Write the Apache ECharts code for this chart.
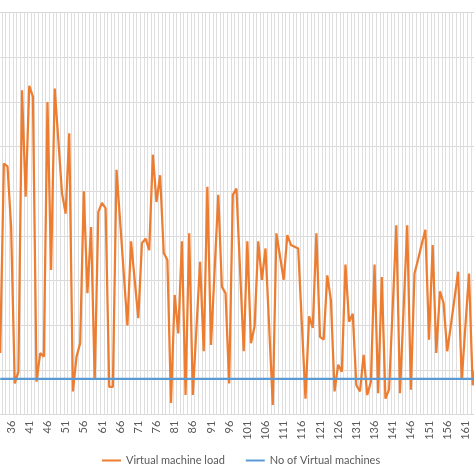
<!DOCTYPE html>
<html>
<head>
<meta charset="utf-8">
<script src="https://cdn.jsdelivr.net/npm/echarts@6/dist/echarts.min.js"></script>
<style>
  html, body { margin: 0; padding: 0; background: #fff; }
  #chart { width: 474px; height: 474px; }
</style>
</head>
<body>
<div id="chart"></div>
<script>
// categories run from 33 to 164 (the crop shows 36 ... 161)
const firstCategory = 33
const lastCategory = 164

const vmLoad = [
  6.9, 28.1, 27.8, 21.0, 3.5, 4.8, 36.3, 24.4, 36.8, 35.6,
  3.7, 6.9, 6.5, 35.0, 16.2, 36.5, 30.7, 24.8, 22.5, 31.5,
  2.6, 6.5, 8.0, 25.0, 13.6, 21.0, 3.9, 22.7, 23.7, 23.1,
  3.1, 3.1, 27.4, 21.6, 15.8, 10.0, 19.4, 15.1, 10.8, 19.2,
  19.7, 18.4, 29.1, 23.8, 26.8, 18.1, 17.3, 1.3, 13.4, 9.1,
  19.4, 2.2, 20.3, 2.2, 9.7, 17.1, 7.1, 25.5, 7.8, 16.2,
  24.6, 14.3, 13.6, 3.5, 24.6, 25.3, 16.2, 7.1, 19.4, 8.0,
  9.9, 19.4, 15.1, 18.6, 9.9, 1.1, 20.3, 17.7, 15.1, 20.1,
  19.0, 18.8, 18.6, 10.2, 1.8, 11.0, 9.7, 20.3, 8.7, 8.4,
  15.6, 12.8, 2.6, 5.6, 4.8, 16.8, 10.4, 11.3, 3.3, 2.6,
  6.7, 2.2, 3.7, 16.8, 2.4, 15.4, 1.8, 2.8, 12.0, 21.2,
  2.4, 11.8, 21.2, 2.8, 15.8, 17.4, 19.1, 20.7, 8.4, 19.0,
  6.9, 13.8, 12.5, 7.1, 10.0, 13.0, 16.0, 3.9, 9.9, 15.8,
  3.3, 6.0
]

// number of virtual machines stays flat across the whole range
const vmCountValue = 4

const categories = []
for (let c = firstCategory; c <= lastCategory; c++) categories.push(String(c))
const vmCount = categories.map(() => vmCountValue)

const chart = echarts.init(document.getElementById('chart'))

chart.setOption({
  backgroundColor: '#fff',
  animation: false,
  legend: {
    left: 97,
    top: 450,
    itemWidth: 19,
    itemHeight: 2,
    itemGap: 21,
    textStyle: {
      color: '#595959',
      fontSize: 11,
      fontFamily: 'Lato'
    },
    data: [
      { name: 'Virtual machine load', icon: 'rect' },
      { name: 'No of Virtual machines', icon: 'rect' }
    ]
  },
  grid: {
    left: -1.6,
    right: -4.1,
    top: 12.6,
    bottom: 59.3,
    containLabel: false,
    outerBoundsMode: 'none'
  },
  xAxis: {
    type: 'category',
    data: categories,
    boundaryGap: true,
    axisLine: { lineStyle: { color: '#d9d9d9', width: 1 } },
    axisTick: { show: false },
    axisLabel: {
      rotate: 90,
      margin: 6,
      color: '#595959',
      fontSize: 11,
      fontFamily: 'Lato',
      interval: (i, v) => (Number(v) - 1) % 5 === 0
    },
    splitLine: {
      show: true,
      interval: 0,
      lineStyle: { color: '#dedede', width: 1 }
    }
  },
  yAxis: {
    type: 'value',
    min: 0,
    max: 45,
    interval: 5,
    axisLine: { show: false },
    axisTick: { show: false },
    axisLabel: { show: false },
    splitLine: { lineStyle: { color: '#d9d9d9', width: 1 } }
  },
  series: [
    {
      name: 'Virtual machine load',
      type: 'line',
      data: vmLoad,
      symbol: 'none',
      lineStyle: { color: '#ed7d31', width: 2.25 },
      itemStyle: { color: '#ed7d31' }
    },
    {
      name: 'No of Virtual machines',
      type: 'line',
      data: vmCount,
      symbol: 'none',
      lineStyle: { color: '#5b9bd5', width: 2.25 },
      itemStyle: { color: '#5b9bd5' }
    }
  ]
})
</script>
</body>
</html>
